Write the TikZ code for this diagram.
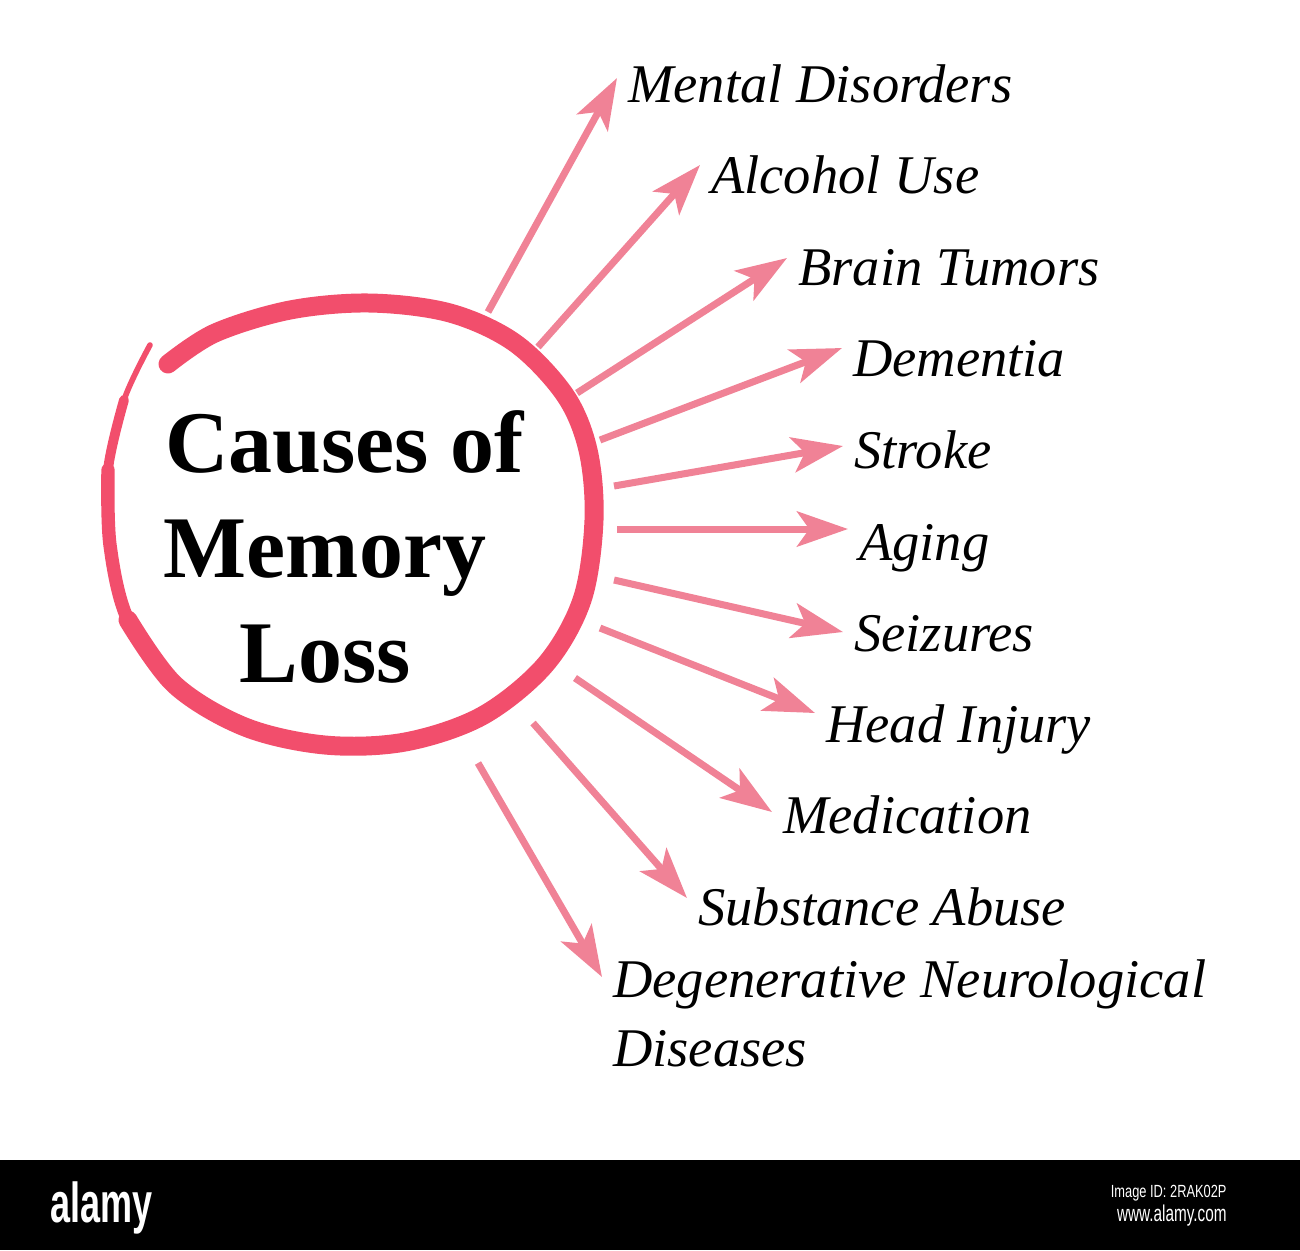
\documentclass[tikz,border=0pt]{standalone}
\usepackage{fontspec}
\setmainfont{Liberation Serif}
\newfontfamily\barfont{Liberation Sans}
\usetikzlibrary{arrows.meta}
\definecolor{ringred}{RGB}{242,78,108}
\definecolor{arrowpink}{RGB}{240,130,150}
\def\labelsize{\fontsize{15.5}{19.6}\selectfont\itshape}
\def\titlesize{\fontsize{25}{29.8}\selectfont\bfseries}

\begin{document}
\begin{tikzpicture}[x=0.01cm,y=-0.01cm,
  link/.style={draw=arrowpink,line width=2pt,-{Stealth[length=14.5pt,width=10pt,inset=3.5pt]}},
  cause/.style={anchor=base west,inner sep=0pt,inner xsep=3pt,font=\labelsize},
  title/.style={align=center,inner sep=0pt,font=\titlesize},
  ring/.style={draw=ringred,line cap=round,line join=round}]
  \useasboundingbox (0,0) rectangle (1300,1250);
  % hand drawn ring round the title, thinner towards its open end
  \draw[ring,line width=5.4pt] plot[smooth,tension=0.55] coordinates {(168,364) (215,333) (290,310) (370,303) (450,313) (515,343) (565,395) (588,450) (594,520) (582,600) (545,665) (482,716) (405,742) (325,745) (245,727) (175,685) (128,620)};
  \draw[ring,line width=1.6pt] plot[smooth,tension=0.55] coordinates {(175,685) (128,620) (110,545) (108,470) (124,400) (150,345)};
  \draw[ring,line width=2.8pt] plot[smooth,tension=0.55] coordinates {(175,685) (128,620) (110,545) (108,470) (124,400)};
  \draw[ring,line width=3.8pt] plot[smooth,tension=0.55] coordinates {(175,685) (128,620) (110,545) (108,470)};
  \node[title] (hub) at (325,547) {\hspace*{0.45em}Causes of\\Memory\\Loss};
  % causes, one arrow each
  \foreach \n/\sx/\sy/\lx/\ly/\ty/\txt in {
    1/488/312/617/102/78/Mental Disorders,
    2/538/347/700/193/165/Alcohol Use,
    3/577/393/787/285/258/Brain Tumors,
    4/600/440/842/376/348/Dementia,
    5/614/486/843/468/446/Stroke,
    6/617/529/848/560/529/Aging,
    7/614/580/843/651/632/Seizures,
    8/600/628/815/742/713/Head Injury,
    9/575/678/772/833/812/Medication,
    10/533/723/687/925/898/Substance Abuse}
  {
    \coordinate (s\n) at (\sx,\sy);
    \node[cause] (l\n) at (\lx,\ly) {\txt};
    \draw[link] (s\n) -- (l\n.west |- 0,\ty);
  }
  \coordinate (s11) at (478,763);
  \node[cause,anchor=north west,align=left] (l11) at (602,959) {Degenerative Neurological\\Diseases};
  \draw[link] (s11) -- (l11.west |- 0,977);
  % stock bar at the bottom
  \fill[black] (0,1160) rectangle (1300,1250);
  \node[text=white,anchor=base west,inner sep=0pt,xscale=0.64,font=\barfont\bfseries\fontsize{16}{16}\selectfont] (brand) at (50,1222) {alamy};
  \node[text=white,anchor=base east,inner sep=0pt,xscale=0.73,font=\barfont\fontsize{5}{5}\selectfont] (imgid) at (1227,1197) {Image ID: 2RAK02P};
  \node[text=white,anchor=base east,inner sep=0pt,xscale=0.67,font=\barfont\fontsize{6.5}{6.5}\selectfont] (site) at (1227,1221) {www.alamy.com};
\end{tikzpicture}
\end{document}
